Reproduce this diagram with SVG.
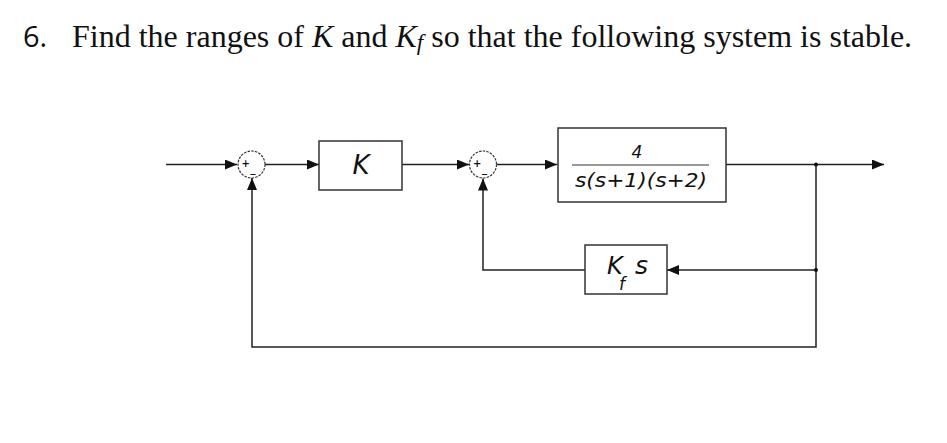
<svg xmlns="http://www.w3.org/2000/svg" width="947" height="443" viewBox="0 0 947 443">
<style>
.ln{fill:none;stroke:#222;stroke-width:1.5}
.bx{fill:#fff;stroke:#333;stroke-width:1.5}
.sum{fill:#fff;stroke:#333;stroke-width:1.2;stroke-dasharray:2.5 1.2}
.sg{font-family:"DejaVu Sans",sans-serif;font-size:10px;font-weight:bold;fill:#111}
.blk{font-family:"DejaVu Sans",Verdana,sans-serif;font-style:italic;fill:#111}
.ttl{font-family:"Liberation Serif",serif;font-size:32px;fill:#111}
</style>
<defs>
<marker id="ah" viewBox="0 0 12 10" refX="12" refY="5" markerWidth="12" markerHeight="10" markerUnits="userSpaceOnUse" orient="auto">
<path d="M0,0 L12,5 L0,10 Z" fill="#111"/>
</marker>
</defs>
<rect width="947" height="443" fill="#fff"/>
<g id="title">
<text x="23" y="47" font-family="'Open Sans','Liberation Sans',sans-serif" font-size="29" fill="#111">6.</text>
<text x="72" y="47" class="ttl">Find the ranges of <tspan font-style="italic">K</tspan> and <tspan font-style="italic">K</tspan><tspan font-style="italic" font-size="23" dy="3">f</tspan><tspan dy="-3"> so that the following system is stable.</tspan></text>
</g>
<g id="connectors">
<path class="ln" d="M166,164.5 H237" marker-end="url(#ah)"/>
<path class="ln" d="M265,164.5 H319" marker-end="url(#ah)"/>
<path class="ln" d="M402,164.5 H469" marker-end="url(#ah)"/>
<path class="ln" d="M497,164.5 H557" marker-end="url(#ah)"/>
<path class="ln" d="M726,164.5 H884" marker-end="url(#ah)"/>
<path class="ln" d="M816,164.5 V347 H252 V178" marker-end="url(#ah)"/>
<path class="ln" d="M816,270 H667" marker-end="url(#ah)"/>
<path class="ln" d="M585,270 H483 V178.5" marker-end="url(#ah)"/>
<circle cx="816" cy="164.5" r="2" fill="#111"/>
<circle cx="816" cy="270" r="2" fill="#111"/>
</g>
<g id="sum1">
<circle class="sum" cx="251.5" cy="164.5" r="13.5"/>
<text class="sg" x="241.5" y="167">+</text>
<text class="sg" x="250.5" y="172">_</text>
</g>
<g id="K">
<rect class="bx" x="319" y="141" width="83" height="49"/>
<text class="blk" x="361" y="174" font-size="26" text-anchor="middle">K</text>
</g>
<g id="sum2">
<circle class="sum" cx="483" cy="164.5" r="13.5"/>
<text class="sg" x="473" y="167">+</text>
<text class="sg" x="482" y="172">_</text>
</g>
<g id="G">
<rect class="bx" x="558" y="128" width="168" height="74"/>
<text class="blk" x="637" y="158" font-size="17" text-anchor="middle">4</text>
<line x1="572" y1="165" x2="709" y2="165" stroke="#333" stroke-width="1.2"/>
<text class="blk" x="575" y="187" font-size="20" textLength="132" lengthAdjust="spacingAndGlyphs">s(s+1)(s+2)</text>
</g>
<g id="Kfs">
<rect class="bx" x="585" y="245" width="82" height="49"/>
<text class="blk" x="607" y="274" font-size="24">K</text>
<text class="blk" x="619" y="290" font-size="17">f</text>
<text class="blk" x="635" y="274" font-size="25">s</text>
</g>
</svg>
